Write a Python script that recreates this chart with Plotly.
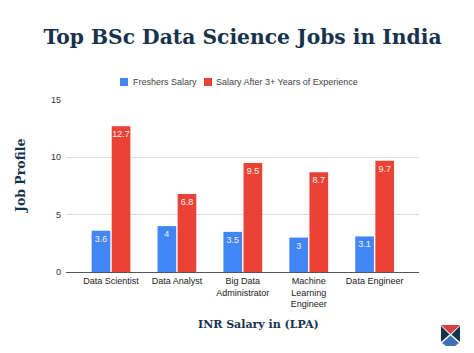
import plotly.graph_objects as go

categories = ["Data Scientist", "Data Analyst", "Big Data<br>Administrator",
              "Machine<br>Learning<br>Engineer", "Data Engineer"]
freshers = [3.6, 4, 3.5, 3, 3.1]
experienced = [12.7, 6.8, 9.5, 8.7, 9.7]
y_ticks = [0, 5, 10, 15]
series_names = ["Freshers Salary", "Salary After 3+ Years of Experience"]
series_colors = ["#4285F4", "#EA4335"]

W, H = 474, 353
L, R, T, B = 66, 55, 100, 81
PW, PH = W - L - R, H - T - B

def px(x):
    return (x - L) / PW

def py(y):
    return (H - B - y) / PH

fig = go.Figure()
for name, vals, col in zip(series_names, [freshers, experienced], series_colors):
    fig.add_trace(go.Bar(
        x=categories, y=vals, name=name,
        marker=dict(color=col, line=dict(width=0)),
        text=[str(v) for v in vals], textposition="inside",
        insidetextanchor="end", textangle=0,
        textfont=dict(color="#f4f4f4", size=9, family="Liberation Sans"),
    ))

annotations = [
    dict(text="<b>Job Profile</b>", xref="paper", yref="paper", x=px(20), y=py(176),
         textangle=-90, showarrow=False, xanchor="center", yanchor="middle",
         font=dict(family="DejaVu Serif", size=12.5, color="#17324d")),
    dict(text="<b>INR Salary in (LPA)</b>", xref="paper", yref="paper", x=px(258), y=py(324),
         showarrow=False, xanchor="center", yanchor="middle",
         font=dict(family="DejaVu Serif", size=11, color="#17324d")),
]
shapes = []

# custom legend
legend_sq_x = [120, 204]
legend_tx_x = [131, 214]
for name, col, sx, tx in zip(series_names, series_colors, legend_sq_x, legend_tx_x):
    shapes.append(dict(type="rect", xref="paper", yref="paper",
                       x0=px(sx), x1=px(sx + 8), y0=py(86), y1=py(78),
                       fillcolor=col, line=dict(width=0)))
    annotations.append(dict(text=name, xref="paper", yref="paper", x=px(tx), y=py(82),
                            xanchor="left", yanchor="middle", showarrow=False,
                            font=dict(family="Liberation Sans", size=9, color="#444444")))

fig.update_layout(
    width=W, height=H,
    margin=dict(l=L, r=R, t=T, b=B, pad=0),
    paper_bgcolor="white", plot_bgcolor="white",
    barmode="group", bargap=0.39, bargroupgap=0.07,
    showlegend=False,
    uniformtext=dict(minsize=9, mode="show"),
    title=dict(text="<b>Top BSc Data Science Jobs in India</b>",
               x=0.5, xanchor="center", xref="paper",
               y=1 - 37 / H, yanchor="middle", yref="container",
               font=dict(family="DejaVu Serif", size=20.3, color="#17324d")),
    font=dict(family="Liberation Sans", size=9, color="#333333"),
    xaxis=dict(range=[-0.683, 4.673], showgrid=False, showline=True,
               linecolor="#555555", linewidth=1, ticks="", tickfont=dict(size=9, color="#222222"),
               fixedrange=True),
    yaxis=dict(range=[0, 15], tickvals=y_ticks, showgrid=True, gridcolor="#dddddd",
               gridwidth=1, zeroline=False, showline=False, ticks="",
               ticklabelstandoff=4, tickfont=dict(size=9, color="#333333")),
    annotations=annotations,
)

# small shield logo bottom-right
def pth(points):
    return "M " + " L ".join(f"{px(a):.4f},{py(b):.4f}" for a, b in points) + " Z"

shapes += [
    dict(type="path", xref="paper", yref="paper", path=pth([(441, 325), (460, 325), (450.5, 334)]),
         fillcolor="#d9403f", line=dict(width=0)),
    dict(type="path", xref="paper", yref="paper", path=pth([(441, 326), (449.5, 334.5), (441, 342)]),
         fillcolor="#17324d", line=dict(width=0)),
    dict(type="path", xref="paper", yref="paper", path=pth([(460, 326), (451.5, 334.5), (460, 342)]),
         fillcolor="#17324d", line=dict(width=0)),
    dict(type="path", xref="paper", yref="paper",
         path=pth([(450.5, 335.5), (459, 343), (455, 346), (446, 346), (442, 343)]),
         fillcolor="#3f6fb5", line=dict(width=0)),
]
fig.update_layout(shapes=shapes)

fig.write_html("out.html")
